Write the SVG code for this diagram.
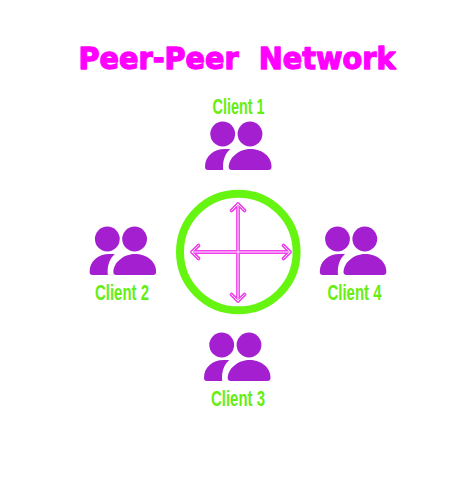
<svg xmlns="http://www.w3.org/2000/svg" width="474" height="491" viewBox="0 0 474 491">
<style>
.bg{fill:#fff}
.title{font-family:"DejaVu Sans",Verdana,sans-serif;font-weight:700;font-size:30px;fill:#ff00ff;stroke:#ff00ff;stroke-width:1.300px;stroke-linejoin:round}
.label{font-family:"Liberation Sans",Arial,sans-serif;font-weight:700;font-size:21.500px;fill:#66ee11;text-anchor:middle}
.p{fill:#a31fd0}
.ring{fill:none;stroke:#66f511;stroke-width:8}
.aO{fill:none;stroke:#f040ee;stroke-width:3.800;stroke-linecap:round;stroke-linejoin:round}
.aI{fill:none;stroke:#fde8fd;stroke-width:1;stroke-linecap:round;stroke-linejoin:round}
</style>
<defs>
<g id="people">
<circle class="p" cx="0" cy="0" r="12.4"/>
<circle class="p" cx="27.3" cy="0" r="12.4"/>
<path class="p" d="M9 36H45.500C47.800 36 48.800 34.800 48.800 33C48.800 22 39 15 27.500 15C16 15 6 24 6 33C6 34.800 7 36 9 36Z"/>
<path class="p" d="M-17.700 33C-17.700 22 -9 15 2 15H7.500C3 19 -0.500 26 0.500 36H-14.700C-16.700 36 -17.700 34.800 -17.700 33Z"/>
</g>
</defs>
<rect class="bg" width="474" height="491"/>
<text id="title" class="title" x="78.500" y="68.500" textLength="317" lengthAdjust="spacingAndGlyphs" xml:space="preserve">Peer-Peer  Network</text>
<g id="client1"><use href="#people" x="222.700" y="134"/><text class="label" x="238.500" y="114" textLength="52" lengthAdjust="spacingAndGlyphs">Client 1</text></g>
<g id="client2"><use href="#people" x="107.300" y="239"/><text class="label" x="122" y="300" textLength="54" lengthAdjust="spacingAndGlyphs">Client 2</text></g>
<g id="client3"><use href="#people" x="221.700" y="345"/><text class="label" x="238" y="406" textLength="54" lengthAdjust="spacingAndGlyphs">Client 3</text></g>
<g id="client4"><use href="#people" x="337.500" y="239"/><text class="label" x="354.500" y="300" textLength="54" lengthAdjust="spacingAndGlyphs">Client 4</text></g>
<g id="hub"><circle class="ring" cx="238.300" cy="252" r="58.300"/></g>
<g id="connectors">
<path class="aO" d="M238 204V301M231.500 210.500L238 204L244.500 210.500M231.500 294.500L238 301L244.500 294.500M192 252H290M198.500 245.500L192 252L198.500 258.500M283.500 245.500L290 252L283.500 258.500"/>
<path class="aI" d="M238 204V301M231.500 210.500L238 204L244.500 210.500M231.500 294.500L238 301L244.500 294.500M192 252H290M198.500 245.500L192 252L198.500 258.500M283.500 245.500L290 252L283.500 258.500"/>
</g>
</svg>
